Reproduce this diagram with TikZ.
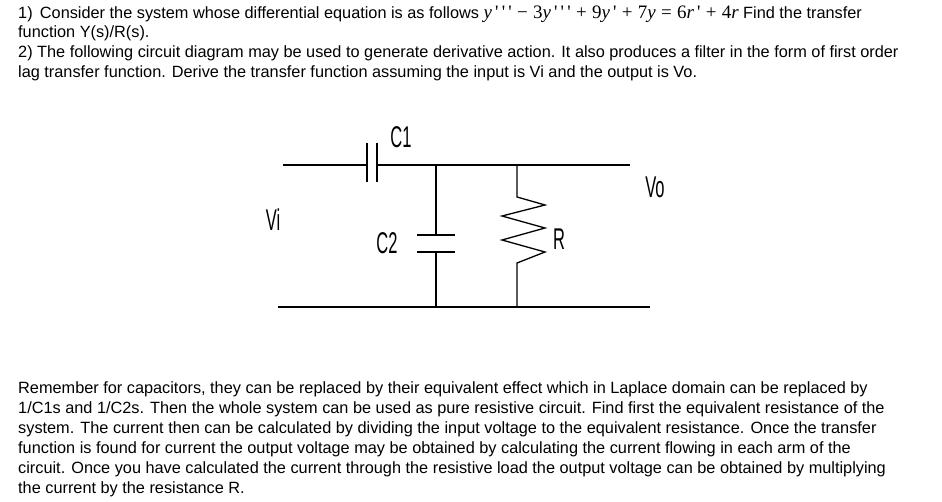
\documentclass[tikz,border=0pt]{standalone}
\usepackage{fontspec}
\setmainfont{Liberation Sans}
\newfontfamily\serf{Liberation Serif}
\newcommand{\nar}[1]{\scalebox{0.55}[1]{#1}}
\newcommand{\yy}{{\serf\itshape y}}
\newcommand{\rr}{{\serf\itshape r}}
\newcommand{\pr}{{\serf\,\textquotesingle}}
\newcommand{\op}[1]{{\serf\;#1\;}}
\begin{document}
\begin{tikzpicture}[x=1pt,y=-1pt,
  txt/.style={anchor=base west,inner sep=0pt,font=\fontsize{16.3}{18}\selectfont},
  lbl/.style={inner sep=0pt,font=\fontsize{30}{30}\selectfont},
  wire/.style={line width=1.3pt}]
\useasboundingbox (0,0) rectangle (942,502);
\node[txt] (l1) at (18,19) {1)\, Consider the system whose differential equation is as follows {\fontsize{19}{19}\selectfont\yy\pr\pr\pr\op{\textminus}{\serf 3}\yy\pr\pr\pr\op{+}{\serf 9}\yy\pr\op{+}{\serf 7}\yy\op{=}{\serf 6}\rr\pr\op{+}{\serf 4}\rr} Find the transfer};
\node[txt] (l2) at (18,38) {function Y(s)/R(s).};
\node[txt] (l3) at (18,58) {2) The following circuit diagram may be used to generate derivative action. It also produces a filter in the form of first order};
\node[txt] (l4) at (18,78) {lag transfer function. Derive the transfer function assuming the input is Vi and the output is Vo.};
\node[txt] (p1) at (18,393) {Remember for capacitors, they can be replaced by their equivalent effect which in Laplace domain can be replaced by};
\node[txt] (p2) at (18,413) {1/C1s and 1/C2s. Then the whole system can be used as pure resistive circuit. Find first the equivalent resistance of the};
\node[txt] (p3) at (18,433) {system. The current then can be calculated by dividing the input voltage to the equivalent resistance. Once the transfer};
\node[txt] (p4) at (18,453) {function is found for current the output voltage may be obtained by calculating the current flowing in each arm of the};
\node[txt] (p5) at (18,473) {circuit. Once you have calculated the current through the resistive load the output voltage can be obtained by multiplying};
\node[txt] (p6) at (18,493) {the current by the resistance R.};
% circuit
\coordinate (a) at (283,165); \coordinate (c1l) at (367,165); \coordinate (c1r) at (377,165);
\coordinate (j1) at (436,165); \coordinate (j2) at (517,165); \coordinate (e) at (630,165);
\coordinate (b1) at (278,307); \coordinate (b2) at (650,307);
\coordinate (g1) at (436,307); \coordinate (g2) at (517,307);
\draw[wire] (a) -- (c1l) (367,143) -- (367,182) (377,143) -- (377,182) (c1r) -- (e);
\draw[wire] (b1) -- (b2);
\draw[wire] (j1) -- (436,235) (417,235) -- (455,235) (417,252) -- (455,252) (436,252) -- (g1);
\draw[wire] (j2) -- (517,197) -- (545,205) -- (502,216) -- (545,228) -- (502,240) -- (545,252) -- (517,263) -- (g2);
\node[lbl] (C1) at (401,137) {\nar{C1}};
\node[lbl] (C2) at (387,243) {\nar{C2}};
\node[lbl] (R) at (559,239) {\nar{R}};
\node[lbl] (Vo) at (655,187) {\nar{Vo}};
\node[lbl] (Vi) at (273,220) {\nar{Vi}};
\end{tikzpicture}
\end{document}
